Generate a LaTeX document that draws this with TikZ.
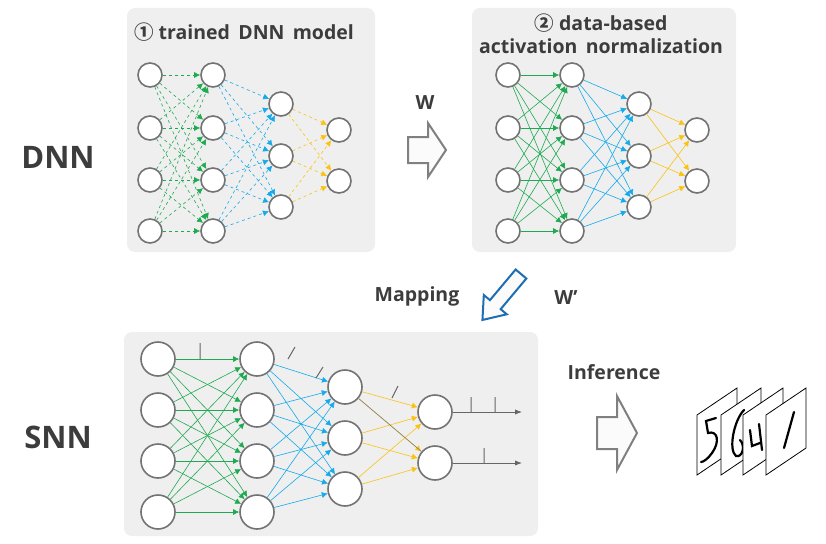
\documentclass[tikz,border=0pt]{standalone}
\usepackage{fontspec}
\setmainfont{Open Sans}
\newfontfamily\cjk{Noto Sans CJK KR}
\usetikzlibrary{arrows.meta}
\definecolor{panel}{RGB}{239,239,239}
\definecolor{gn}{RGB}{30,170,80}
\definecolor{bl}{RGB}{20,170,235}
\definecolor{yl}{RGB}{250,195,20}
\definecolor{tx}{RGB}{60,60,60}
\definecolor{mapc}{RGB}{30,110,180}
\begin{document}
\begin{tikzpicture}[x=1pt,y=-1pt,
  panelbox/.style={fill=panel,rounded corners=8pt,draw=none},
  nrn/.style={circle,draw=gray!90!black,line width=1.6pt,fill=white,minimum size=#1,inner sep=0pt},
  nrn/.default=24pt,
  ed/.style={-{Latex[length=6pt,width=6pt]},line width=0.6pt},
  lbl/.style={font=\bfseries\fontsize{19.5}{23}\selectfont,text=tx},
  big/.style={font=\bfseries\fontsize{31}{36}\selectfont,text=tx},
  pics/blockarrow/.style n args={5}{code={% length, shaft half, head half, head length, colour
    \draw[line width=2pt,draw=#5,fill=white!97!gray,line join=miter] (0,-#2) -- ({#1-#4},-#2) -- ({#1-#4},-#3) -- (#1,0) -- ({#1-#4},#3) -- ({#1-#4},#2) -- (0,#2) -- cycle;}}]
\useasboundingbox (0,0) rectangle (826,543);
% panels
\fill[panelbox] (127,8) rectangle (375,252);
\fill[panelbox] (472,8) rectangle (736,252);
\fill[panelbox] (124,332) rectangle (538,536);
\node[big] (dnn) at (58,157) {DNN};
\node[big] (snn) at (58,437) {SNN};
\node[lbl] (t1) at (244,32) {{\cjk ①} trained\, DNN\, model};
\node[lbl,align=center,inner sep=0pt] (t2) at (601,34) {{\cjk ②} data-based\\activation\, normalization};
% networks
\foreach \p/\xa/\xb/\xc/\xd/\sty in {a/150/213/281/339/dashed, b/508/572/639/697/solid}{
  \foreach \i/\y in {1/75,2/128,3/180,4/231}{
    \node[nrn] (\p1\i) at (\xa,\y) {};
    \node[nrn] (\p2\i) at (\xb,\y) {};}
  \foreach \i/\y in {1/104,2/156,3/207}{\node[nrn] (\p3\i) at (\xc,\y) {};}
  \foreach \i/\y in {1/130,2/181}{\node[nrn] (\p4\i) at (\xd,\y) {};}
  \foreach \i in {1,...,4}{\foreach \j in {1,...,4}{\draw[ed,gn,\sty] (\p1\i) -- (\p2\j);}}
  \foreach \i in {1,...,4}{\foreach \j in {1,...,3}{\draw[ed,bl,\sty] (\p2\i) -- (\p3\j);}}
  \foreach \i in {1,...,3}{\foreach \j in {1,2}{\draw[ed,yl,\sty] (\p3\i) -- (\p4\j);}}
}
% SNN
\foreach \i/\y in {1/359,2/410,3/461,4/512}{
  \node[nrn=34pt] (c1\i) at (158,\y) {};
  \node[nrn=34pt] (c2\i) at (257,\y) {};}
\foreach \i/\y in {1/387,2/438,3/489}{\node[nrn=34pt] (c3\i) at (345,\y) {};}
\foreach \i/\y in {1/412,2/463}{\node[nrn=34pt] (c4\i) at (435,\y) {};}
\foreach \i in {1,...,4}{\foreach \j in {1,...,4}{\draw[ed,gn] (c1\i) -- (c2\j);}}
\foreach \i in {1,...,4}{\foreach \j in {1,...,3}{\draw[ed,bl] (c2\i) -- (c3\j);}}
\foreach \i in {1,...,3}{\foreach \j in {1,2}{\draw[ed,yl] (c3\i) -- (c4\j);}}
\draw[gray,line width=0.6pt] (c31) -- (c42);
\coordinate (o1) at (522,412);
\coordinate (o2) at (522,463);
\draw[-{Latex[length=7pt]},gray!80!black,line width=0.8pt] (c41) -- (o1);
\draw[-{Latex[length=7pt]},gray!80!black,line width=0.8pt] (c42) -- (o2);
\draw[gray!80!black,line width=1pt] (200,359) -- (200,343) (288,359) -- (295,347) (316,378) -- (323,367) (392,398)--(398,386)
  (471,412)--(471,397) (495,412)--(495,397) (484,463)--(484,448);
% block arrows
\pic at (408,150) {blockarrow={38}{13}{27}{18}{gray}};
\node[lbl] (w) at (425,103) {W};
\pic[rotate=-130] at (521,274) {blockarrow={60}{7}{15}{20}{mapc}};
\node[lbl] (map) at (417,296) {Mapping};
\node[lbl] (w2) at (566,298) {W’};
\node[lbl] (inf) at (614,372) {Inference};
\pic at (597,433) {blockarrow={40}{16}{37}{20}{gray}};
% digits
\foreach \x/\k in {697/1,721/2,743/3,766/4}{
  \draw[fill=white,line width=0.8pt] (\x,415) -- (\x+40,388) -- (\x+40,448) -- (\x,475) -- cycle;
  \begin{scope}[line width=2.2pt,line cap=round]
  \ifnum\k=1 \draw (716,418) -- (706,421) -- (708,433) .. controls (718,430) and (720,442) .. (712,453) .. controls (708,459) and (703,462) .. (701,462); \fi
  \ifnum\k=2 \draw (744,410) .. controls (734,420) and (728,450) .. (736,456) .. controls (742,458) and (746,446) .. (740,440); \fi
  \ifnum\k=3 \draw (750,430) -- (752,446) -- (760,443) (759,424) -- (762,450); \fi
  \ifnum\k=4 \draw (794,412) -- (784,448); \fi
  \end{scope}}
\end{tikzpicture}
\end{document}
